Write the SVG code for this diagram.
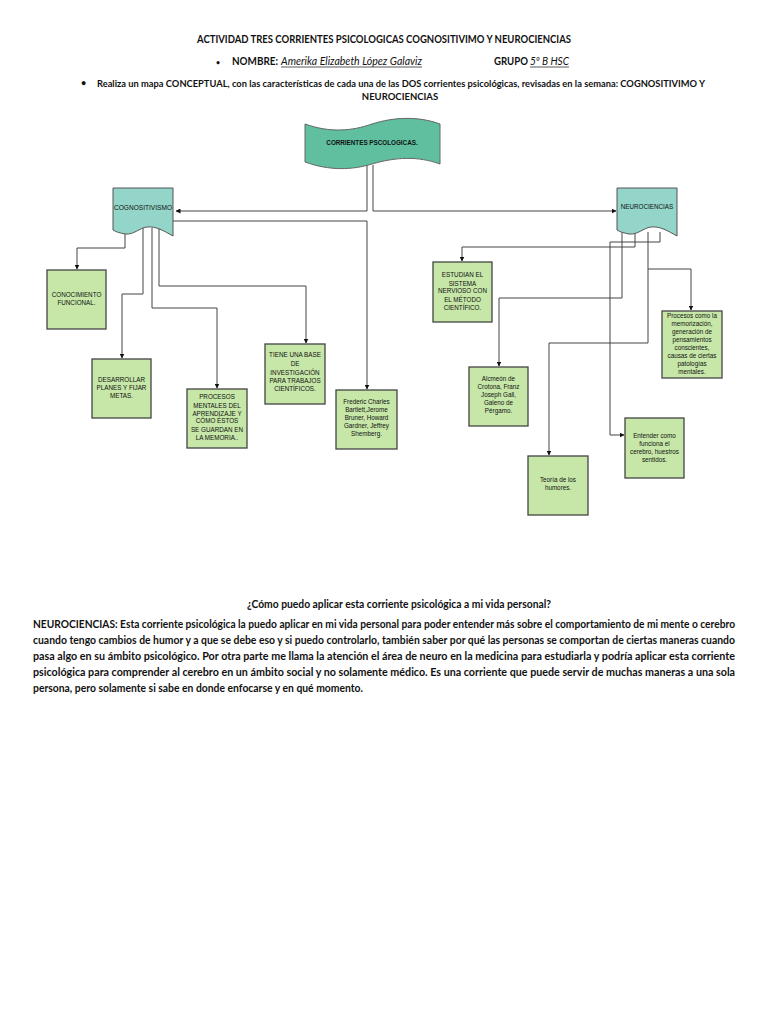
<svg xmlns="http://www.w3.org/2000/svg" width="768" height="1024" viewBox="0 0 768 1024">
<defs>
<marker id="arr" viewBox="0 0 10 10" refX="9" refY="5" markerWidth="5" markerHeight="5" orient="auto" markerUnits="userSpaceOnUse">
<path d="M0,0 L10,5 L0,10 Z" fill="#111"/>
</marker>
<style>
.h{font-family:Lato,"Liberation Sans",sans-serif;font-weight:bold;font-size:10.5px;fill:#111}
.p{font-family:Lato,"Liberation Sans",sans-serif;font-weight:bold;font-size:10.5px;fill:#111}
.box{fill:#c6e7a8;stroke:#444;stroke-width:1.3}
.teal{fill:#93d5c8;stroke:#555;stroke-width:1}
.ban{fill:#5fbf9f;stroke:#666;stroke-width:1}
.t{font-family:"Liberation Sans",Arial,sans-serif;font-size:6.3px;fill:#111;text-anchor:middle}
.c{fill:none;stroke:#444;stroke-width:1}
</style>
</defs>
<rect width="768" height="1024" fill="#fff"/>

<!-- header -->
<text class="h" x="197" y="43" textLength="374" lengthAdjust="spacingAndGlyphs">ACTIVIDAD TRES  CORRIENTES PSICOLOGICAS COGNOSITIVIMO Y NEUROCIENCIAS</text>
<text class="h" x="216" y="65" style="font-size:7px">•</text>
<text class="h" x="232" y="65" textLength="46" lengthAdjust="spacingAndGlyphs">NOMBRE:</text>
<text class="h" x="281" y="65" font-style="italic" textLength="141" lengthAdjust="spacingAndGlyphs" style="font-weight:normal">Amerika Elizabeth López Galaviz</text>
<line x1="281" y1="67" x2="422" y2="67" stroke="#111" stroke-width="0.7"/>
<text class="h" x="494" y="65" textLength="34" lengthAdjust="spacingAndGlyphs">GRUPO</text>
<text class="h" x="530" y="65" font-style="italic" textLength="39" lengthAdjust="spacingAndGlyphs" style="font-weight:normal">5º B HSC</text>
<line x1="530" y1="67" x2="569" y2="67" stroke="#111" stroke-width="0.7"/>
<text class="h" x="81" y="86" style="font-size:9px">•</text>
<text class="h" x="97" y="87" style="font-size:9.5px" textLength="608" lengthAdjust="spacingAndGlyphs">Realiza un mapa CONCEPTUAL, con las características de cada una de las  DOS  corrientes psicológicas, revisadas en la semana: COGNOSITIVIMO Y</text>
<text class="h" x="400" y="100" text-anchor="middle" style="font-size:9.5px">NEUROCIENCIAS</text>

<!-- connectors -->
<g id="connectors">
<polyline class="c" points="367,165 367,211 176,211" marker-end="url(#arr)"/>
<polyline class="c" points="373,165 373,211 616,211" marker-end="url(#arr)"/>
<polyline class="c" points="125,233 125,248 77,248 77,269" marker-end="url(#arr)"/>
<polyline class="c" points="143,228 143,294 122,294 122,358" marker-end="url(#arr)"/>
<polyline class="c" points="152,228 152,308 217,308 217,388" marker-end="url(#arr)"/>
<polyline class="c" points="159,228 159,286 306,286 306,343" marker-end="url(#arr)"/>
<polyline class="c" points="173,221 367,221 367,389" marker-end="url(#arr)"/>
<polyline class="c" points="635,232 635,247 462,247 462,261" marker-end="url(#arr)"/>
<polyline class="c" points="660,232 660,242 610,242 610,435 624,435" marker-end="url(#arr)"/>
<polyline class="c" points="622,232 622,298 499,298 499,366" marker-end="url(#arr)"/>
<polyline class="c" points="648,232 648,269 691,269 691,310" marker-end="url(#arr)"/>
<polyline class="c" points="648,269 648,343 549,343 549,455" marker-end="url(#arr)"/>
</g>

<!-- banner -->
<g id="corrientes">
<path class="ban" d="M305,124 C330,133 352,131 372,124 C394,117 418,116 440,124 L440,164 C418,156 396,157 372,164 C352,170 330,171 305,162 Z"/>
<text class="t" x="372" y="145" style="font-weight:bold;font-size:6.3px">CORRIENTES PSCOLOGICAS.</text>
</g>

<g id="cognositivismo">
<path class="teal" d="M113,188 H173 V236 C164,231 156,226 147,227 C139,228 134,235 125,234 C120,233 116,232 113,230 Z"/>
<text class="t" x="143" y="210" style="font-size:6.6px" textLength="58" lengthAdjust="spacingAndGlyphs">COGNOSITIVISMO</text>
</g>

<g id="neurociencias">
<path class="teal" d="M617,188 H677 V236 C668,231 660,226 651,227 C643,228 638,235 629,234 C624,233 620,232 617,230 Z"/>
<text class="t" x="647" y="209" style="font-size:6.3px">NEUROCIENCIAS</text>
</g>

<g id="conocimiento">
<rect class="box" x="47" y="270" width="59" height="59"/>
<text class="t" x="76.5" y="296.5">CONOCIMIENTO</text>
<text class="t" x="76.5" y="305">FUNCIONAL.</text>
</g>

<g id="desarrollar">
<rect class="box" x="92" y="359" width="59" height="59"/>
<text class="t" x="121.5" y="381.5">DESARROLLAR</text>
<text class="t" x="121.5" y="389.5">PLANES Y FIJAR</text>
<text class="t" x="121.5" y="398">METAS.</text>
</g>

<g id="procesos-mentales">
<rect class="box" x="187" y="389" width="60" height="59"/>
<text class="t" x="217" y="399">PROCESOS</text>
<text class="t" x="217" y="407.5">MENTALES DEL</text>
<text class="t" x="217" y="415.5">APRENDIZAJE Y</text>
<text class="t" x="217" y="423">CÓMO ÉSTOS</text>
<text class="t" x="217" y="431.5">SE GUARDAN EN</text>
<text class="t" x="217" y="439.5">LA MEMORIA..</text>
</g>

<g id="tiene">
<rect class="box" x="265" y="344" width="60" height="60"/>
<text class="t" x="295" y="357">TIENE UNA BASE</text>
<text class="t" x="295" y="365.5">DE</text>
<text class="t" x="295" y="374.5">INVESTIGACIÓN</text>
<text class="t" x="295" y="383">PARA TRABAJOS</text>
<text class="t" x="295" y="391">CIENTÍFICOS.</text>
</g>

<g id="frederic">
<rect class="box" x="336" y="390" width="61" height="59"/>
<text class="t" x="366.5" y="404">Frederic Charles</text>
<text class="t" x="366.5" y="412">Bartlett,Jerome</text>
<text class="t" x="366.5" y="420">Bruner, Howard</text>
<text class="t" x="366.5" y="428">Gardner, Jeffrey</text>
<text class="t" x="366.5" y="436">Shemberg.</text>
</g>

<g id="estudian">
<rect class="box" x="433" y="262" width="59" height="60"/>
<text class="t" x="462.5" y="277">ESTUDIAN EL</text>
<text class="t" x="462.5" y="285.5">SISTEMA</text>
<text class="t" x="462.5" y="293">NERVIOSO CON</text>
<text class="t" x="462.5" y="301.5">EL MÉTODO</text>
<text class="t" x="462.5" y="309.5">CIENTÍFICO.</text>
</g>

<g id="procesos-memorizacion">
<rect class="box" x="662" y="311" width="60" height="67"/>
<text class="t" x="692" y="318">Procesos como la</text>
<text class="t" x="692" y="325.5">memorización,</text>
<text class="t" x="692" y="333.5">generación de</text>
<text class="t" x="692" y="342">pensamientos</text>
<text class="t" x="692" y="350">conscientes,</text>
<text class="t" x="692" y="358">causas de ciertas</text>
<text class="t" x="692" y="365.5">patologías</text>
<text class="t" x="692" y="373.5">mentales.</text>
</g>

<g id="alcmeon">
<rect class="box" x="469" y="367" width="59" height="59"/>
<text class="t" x="498.5" y="380.5">Alcmeón de</text>
<text class="t" x="498.5" y="389">Crotona, Franz</text>
<text class="t" x="498.5" y="397">Joseph Gall,</text>
<text class="t" x="498.5" y="405">Galeno de</text>
<text class="t" x="498.5" y="413">Pérgamo.</text>
</g>

<g id="entender">
<rect class="box" x="625" y="418" width="59" height="60"/>
<text class="t" x="654.5" y="438">Entender como</text>
<text class="t" x="654.5" y="445.5">funciona el</text>
<text class="t" x="654.5" y="454">cerebro, huestros</text>
<text class="t" x="654.5" y="461.5">sentidos.</text>
</g>

<g id="teoria">
<rect class="box" x="528" y="456" width="60" height="59"/>
<text class="t" x="558" y="481.5">Teoría de los</text>
<text class="t" x="558" y="490">humores.</text>
</g>

<!-- paragraph -->
<text class="p" x="247" y="608" textLength="304" lengthAdjust="spacingAndGlyphs">¿Cómo puedo aplicar esta corriente psicológica a mi vida personal?</text>
<text class="p" x="33" y="628" textLength="702" lengthAdjust="spacingAndGlyphs">NEUROCIENCIAS: Esta corriente psicológica la puedo aplicar en mi vida personal para poder entender más sobre el comportamiento de mi mente o cerebro</text>
<text class="p" x="33" y="644" textLength="702" lengthAdjust="spacingAndGlyphs">cuando tengo cambios de humor y a que se debe eso y si puedo controlarlo, también saber por qué las personas se comportan de ciertas maneras cuando</text>
<text class="p" x="33" y="660" textLength="702" lengthAdjust="spacingAndGlyphs">pasa algo en su ámbito psicológico. Por otra parte me llama la atención el área de neuro en la medicina para estudiarla y podría aplicar esta corriente</text>
<text class="p" x="33" y="676" textLength="702" lengthAdjust="spacingAndGlyphs">psicológica para comprender al cerebro en un ámbito social y no solamente médico. Es una corriente que puede servir de muchas maneras a una sola</text>
<text class="p" x="33" y="692" textLength="330" lengthAdjust="spacingAndGlyphs">persona, pero solamente si sabe en donde enfocarse y en qué momento.</text>
</svg>
